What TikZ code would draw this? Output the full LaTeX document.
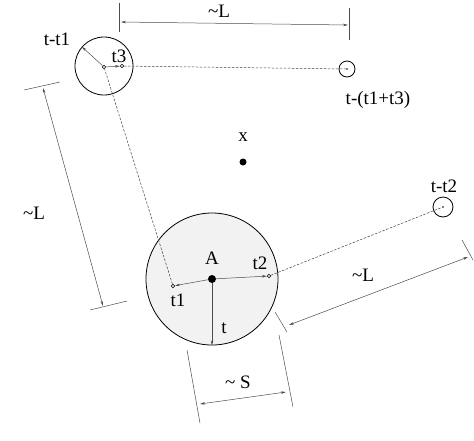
\documentclass[tikz,border=0pt]{standalone}
\usepackage{fontspec}
\setmainfont{Liberation Serif}
\usetikzlibrary{arrows.meta}

\begin{document}
\begin{tikzpicture}[x=1pt,y=-1pt,
    lbl/.style={font=\fontsize{19}{22}\selectfont,inner sep=0pt},
    dimline/.style={draw=black!70,line width=0.5pt},
    dimarrow/.style={dimline,{Stealth[length=5pt,width=2.5pt]}-{Stealth[length=5pt,width=2.5pt]}},
    vec/.style={draw=black!70,line width=0.5pt,-{Stealth[length=5pt,width=2.5pt]}},
    track/.style={draw=black!75,line width=0.5pt,dash pattern=on 2.5pt off 1.5pt},
    pt/.style={circle,draw,line width=0.5pt,inner sep=0pt,minimum size=3.5pt},
    blob/.style={circle,fill,inner sep=0pt,minimum size=#1},
    ring/.style={circle,draw,line width=0.8pt,inner sep=0pt,minimum size=#1}]
      \useasboundingbox (0,0) rectangle (474,440);
      % circles
      \node[ring=132pt,fill=black!5] (big) at (212,279) {};
      \node[ring=58pt] (near) at (104,66) {};
      \node[ring=16pt] (far1) at (347,69) {};
      \node[ring=20pt] (far2) at (443,207) {};
      \node[blob=1.8pt] (f1c) at (far1) {};
      \node[blob=1.8pt] (f2c) at (far2) {};
      % points
      \node[blob=8pt] (A) at (212,279) {};
      \node[blob=7pt] (X) at (243,162) {};
      \node[pt] (p1) at (173,286) {};
      \node[pt] (p2) at (269,276) {};
      \node[pt] (p3) at (122,66) {};
      \node[pt] (c0) at (104,67) {};
      % displacements
      \draw[vec] (A) -- (p1);
      \draw[vec] (A) -- (p2);
      \draw[vec] (A) -- (big.south);
      \draw[vec] (c0) -- (p3);
      \draw[vec] (c0) -- (near.139);
      % paths
      \draw[track] (p1) -- (c0);
      \draw[track] (p3) -- (f1c);
      \draw[track] (p2) -- (f2c);
      % dimensions
      \coordinate (ta1) at (119,3);   \coordinate (ta2) at (119,32);
      \coordinate (tb1) at (349,8);   \coordinate (tb2) at (349,40);
      \coordinate (ts) at (121,22);   \coordinate (te) at (348,25);
      \draw[dimline] (ta1) -- (ta2);
      \draw[dimline] (tb1) -- (tb2);
      \draw[dimarrow] (ts) -- (te);
      \coordinate (la1) at (24,90);   \coordinate (la2) at (60,82);
      \coordinate (lb1) at (90,310);  \coordinate (lb2) at (127,301);
      \coordinate (ls) at (43,88);    \coordinate (le) at (103,306);
      \draw[dimline] (la1) -- (la2);
      \draw[dimline] (lb1) -- (lb2);
      \draw[dimarrow] (ls) -- (le);
      \coordinate (ra1) at (275,312); \coordinate (ra2) at (287,332);
      \coordinate (rb1) at (462,240); \coordinate (rb2) at (473,260);
      \coordinate (rs) at (289,325);  \coordinate (re) at (468,257);
      \draw[dimline] (ra1) -- (ra2);
      \draw[dimline] (rb1) -- (rb2);
      \draw[dimarrow] (rs) -- (re);
      \coordinate (sa1) at (187,350); \coordinate (sa2) at (200,423);
      \coordinate (sb1) at (279,335); \coordinate (sb2) at (293,407);
      \coordinate (ss) at (200,404);  \coordinate (se) at (286,392);
      \draw[dimline] (sa1) -- (sa2);
      \draw[dimline] (sb1) -- (sb2);
      \draw[dimarrow] (ss) -- (se);
      % labels
      \node[lbl] (lA) at (212,258) {A};
      \node[lbl] (lx) at (243,137) {x};
      \node[lbl] (lt) at (224,328) {t};
      \node[lbl] (lt1) at (178,300) {t1};
      \node[lbl] (lt2) at (260,263) {t2};
      \node[lbl] (lt3) at (119,56) {t3};
      \node[lbl] (ltt1) at (57,39) {t-t1};
      \node[lbl] (ltt2) at (444,186) {t-t2};
      \node[lbl] (ltt13) at (378,100) {t-(t1+t3)};
      \node[lbl] (lLtop) at (219,11) {\textasciitilde L};
      \node[lbl] (lLleft) at (34,213) {\textasciitilde L};
      \node[lbl] (lLright) at (363,275) {\textasciitilde L};
      \node[lbl] (lS) at (238,382) {\textasciitilde\ S};
\end{tikzpicture}
\end{document}
